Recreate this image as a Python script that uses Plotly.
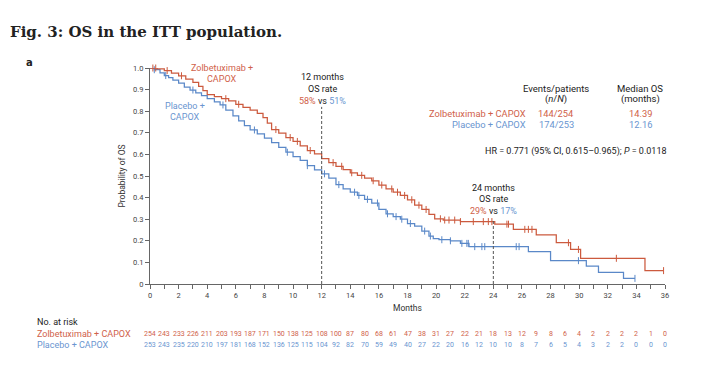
import numpy as np
import plotly.graph_objects as go

# ---------------- data ----------------
zolb_t = [0, 0.5, 1.0, 1.5, 2.0, 2.5, 3.0, 3.4, 3.7, 4.0, 4.5, 5.0, 5.5, 6.0, 6.5, 7.0, 7.5, 7.9,
          8.2, 8.5, 9.0, 9.5, 10.0, 10.5, 11.0, 11.5, 12.0, 12.5, 13.0, 13.5, 14.0, 14.5, 15.0,
          15.5, 16.0, 16.5, 17.0, 17.5, 18.0, 18.5, 19.0, 19.5, 19.9, 20.5, 21.7, 24.1, 25.4,
          27.0, 28.4, 29.4, 30.1, 34.6, 35.9]
zolb_s = [1.0, 0.996, 0.988, 0.976, 0.964, 0.948, 0.933, 0.915, 0.895, 0.877, 0.868, 0.858, 0.848,
          0.832, 0.818, 0.805, 0.79, 0.77, 0.745, 0.715, 0.698, 0.678, 0.66, 0.64, 0.618, 0.603,
          0.58, 0.562, 0.545, 0.53, 0.515, 0.503, 0.49, 0.478, 0.458, 0.44, 0.425, 0.41, 0.39,
          0.365, 0.345, 0.322, 0.302, 0.296, 0.289, 0.277, 0.253, 0.227, 0.191, 0.16, 0.119,
          0.062, 0.062]
zolb_cens = [0.2, 0.4, 1.2, 2.2, 5.3, 6.2, 8.8, 9.8, 10.3, 11.2, 12.8, 13.4, 14.1, 14.8, 15.6,
             16.2, 16.9, 17.3, 17.8, 18.3, 18.8, 19.3, 20.3, 20.6, 20.9, 21.3, 21.7, 22.6, 23.3,
             23.65, 23.9, 24.95, 25.06, 26.2, 26.45, 26.7, 29.25, 29.95, 32.6, 35.9]

plac_t = [0, 0.3, 0.7, 1.0, 1.3, 1.6, 2.0, 2.4, 2.8, 3.2, 3.6, 4.0, 4.5, 4.9, 5.3, 5.8, 6.2, 6.6,
          7.0, 7.5, 8.0, 8.5, 9.0, 9.5, 10.0, 10.5, 11.0, 11.5, 12.0, 12.5, 13.0, 13.5, 14.0,
          14.5, 15.0, 15.5, 16.0, 16.5, 17.0, 17.5, 18.0, 18.5, 19.0, 19.5, 19.8, 20.2, 21.0,
          21.7, 22.3, 26.45, 28.0, 30.5, 31.35, 33.1, 33.9]
plac_s = [1.0, 0.992, 0.978, 0.965, 0.955, 0.944, 0.93, 0.912, 0.898, 0.885, 0.872, 0.858, 0.843,
          0.829, 0.805, 0.778, 0.755, 0.733, 0.713, 0.695, 0.675, 0.655, 0.633, 0.61, 0.59, 0.572,
          0.548, 0.528, 0.51, 0.49, 0.46, 0.44, 0.425, 0.41, 0.392, 0.375, 0.345, 0.325, 0.312,
          0.3, 0.28, 0.268, 0.245, 0.222, 0.21, 0.205, 0.2, 0.188, 0.173, 0.15, 0.108, 0.083,
          0.054, 0.026, 0.026]
plac_cens = [0.3, 1.1, 3.0, 5.1, 7.3, 9.6, 11.0, 12.2, 13.2, 14.3, 14.6, 15.2, 15.9, 16.6, 17.2,
             17.6, 18.2, 19.2, 19.6, 20.4, 21.0, 21.8, 22.15, 22.25, 22.7, 23.2, 23.4, 25.6,
             25.8, 29.95, 33.9]

risk_months = list(range(0, 37))
zolb_risk = [254, 243, 233, 226, 211, 203, 193, 187, 171, 150, 138, 125, 108, 100, 87, 80, 68,
             61, 47, 38, 31, 27, 22, 21, 18, 13, 12, 9, 8, 6, 4, 2, 2, 2, 2, 1, 0]
plac_risk = [253, 243, 235, 220, 210, 197, 181, 168, 152, 136, 125, 115, 104, 92, 82, 70, 59, 49,
             40, 27, 22, 20, 16, 12, 10, 10, 8, 7, 6, 5, 4, 3, 2, 2, 0, 0, 0]

RED = "#cc5a3e"
BLUE = "#5a88c8"
RED_T = "#d0614a"
BLUE_T = "#6a95d0"
FONT = "Roboto"

OFF = 8  # page body margin
W, H = 702 - OFF, 368 - OFF
L, R, T, B = 150, 665, 68, 284   # plot area in page pixels


def px(x):
    return (x - L) / (R - L)


def py(y):
    return (B - y) / (B - T)


def step_val(times, surv, t):
    i = int(np.searchsorted(np.array(times), t, side="right")) - 1
    return surv[max(i, 0)]


fig = go.Figure()
for t, s, cens, col in [(plac_t, plac_s, plac_cens, BLUE), (zolb_t, zolb_s, zolb_cens, RED)]:
    fig.add_trace(go.Scatter(x=t, y=s, mode="lines", line=dict(color=col, width=1.25, shape="hv"),
                             showlegend=False, hoverinfo="skip", cliponaxis=False))
    fig.add_trace(go.Scatter(x=cens, y=[step_val(t, s, c) for c in cens], mode="markers",
                             marker=dict(symbol="line-ns", size=5, line=dict(color=col, width=1)),
                             showlegend=False, hoverinfo="skip", cliponaxis=False))

# dashed reference lines
fig.add_shape(type="line", x0=12, x1=12, y0=0, y1=0.82, xref="x", yref="y",
              line=dict(color="#555", width=1, dash="3px,2px"))
fig.add_shape(type="line", x0=24, x1=24, y0=0, y1=0.30, xref="x", yref="y",
              line=dict(color="#555", width=1, dash="3px,2px"))

ann = []


def add(text, x, y, size=9, color="#222", xanchor="center", family=FONT):
    ann.append(dict(text=text, x=px(x), y=py(y), xref="paper", yref="paper", showarrow=False,
                    xanchor=xanchor, yanchor="middle", font=dict(size=size, color=color, family=family)))


add("<b>Fig. 3: OS in the ITT population.</b>", 8, 32, size=15, color="#222", xanchor="left",
    family="DejaVu Serif")
add("<b>a</b>", 24, 62, size=10, xanchor="left", family="DejaVu Sans")

add("Zolbetuximab +", 222, 68, color=RED_T)
add("CAPOX", 222, 79, color=RED_T)
add("Placebo +", 185, 106, color=BLUE_T)
add("CAPOX", 185, 117, color=BLUE_T)

add("12 months", 322, 77)
add("OS rate", 322, 89)
add(f"<span style='color:{RED_T}'>58%</span> vs <span style='color:{BLUE_T}'>51%</span>", 322, 101)
add("24 months", 493, 188)
add("OS rate", 493, 199)
add(f"<span style='color:{RED_T}'>29%</span> vs <span style='color:{BLUE_T}'>17%</span>", 493, 211)

add("Events/patients", 556, 88, size=9.5)
add("(<i>n</i>/<i>N</i>)", 556, 99, size=9.5)
add("Median OS", 640, 88, size=9.5)
add("(months)", 640, 99, size=9.5)
add("Zolbetuximab + CAPOX", 528, 114, color=RED_T, xanchor="right", size=9.3)
add("144/254", 556, 114, color=RED_T, size=9.3)
add("14.39", 640, 114, color=RED_T, size=9.3)
add("Placebo + CAPOX", 528, 125, color=BLUE_T, xanchor="right", size=9.3)
add("174/253", 556, 125, color=BLUE_T, size=9.3)
add("12.16", 640, 125, color=BLUE_T, size=9.3)
add("HR = 0.771 (95% CI, 0.615–0.965); <i>P</i> = 0.0118", 576, 151)

add("No. at risk", 35, 322, xanchor="left")
add("Zolbetuximab + CAPOX", 35, 334, color=RED_T, xanchor="left")
add("Placebo + CAPOX", 35, 345, color=BLUE_T, xanchor="left")

for m, zr, pr in zip(risk_months, zolb_risk, plac_risk):
    ann.append(dict(text=str(zr), x=m, y=py(334), xref="x", yref="paper", showarrow=False,
                    xanchor="center", yanchor="middle", font=dict(size=7, color=RED_T, family=FONT)))
    ann.append(dict(text=str(pr), x=m, y=py(345), xref="x", yref="paper", showarrow=False,
                    xanchor="center", yanchor="middle", font=dict(size=7, color=BLUE_T, family=FONT)))

fig.update_layout(
    width=W, height=H, autosize=False,
    margin=dict(l=L - OFF, r=702 - R, t=T - OFF, b=368 - B),
    paper_bgcolor="white", plot_bgcolor="white",
    annotations=ann,
    font=dict(family=FONT, size=9, color="#333"),
    xaxis=dict(range=[0, 36], tickmode="array", tickvals=list(range(0, 37, 2)),
               ticks="outside", ticklen=4, tickcolor="#666", tickwidth=1,
               minor=dict(tickvals=list(range(1, 36, 2)), ticks="outside", ticklen=4,
                          tickcolor="#666", tickwidth=1),
               showline=True, linecolor="#666", linewidth=1, showgrid=False, zeroline=False,
               tickfont=dict(size=7.5, color="#444"),
               title=dict(text="Months", font=dict(size=8.5, color="#333"), standoff=6)),
    yaxis=dict(range=[0, 1.0], tickmode="array", tickvals=[i / 10 for i in range(11)],
               ticktext=["0"] + [f"{i/10:.1f}" for i in range(1, 11)],
               ticks="outside", ticklen=4, tickcolor="#666", tickwidth=1,
               showline=True, linecolor="#666", linewidth=1, showgrid=False, zeroline=False,
               tickfont=dict(size=7.5, color="#444"),
               title=dict(text="Probability of OS", font=dict(size=8.5, color="#333"), standoff=6)),
)

fig.write_html("out.html")
